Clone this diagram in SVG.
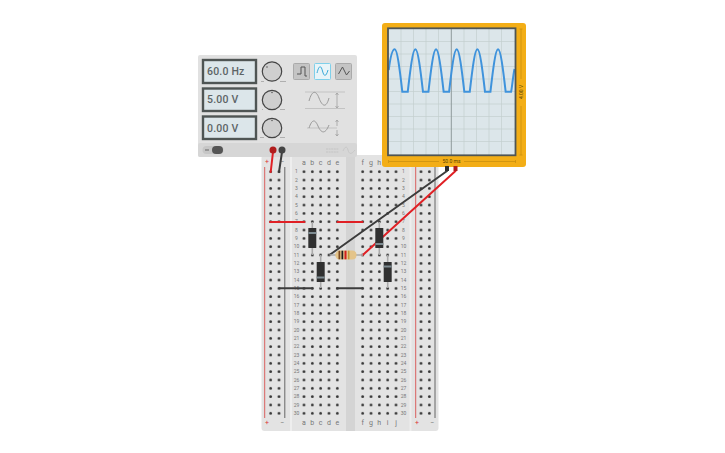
<svg xmlns="http://www.w3.org/2000/svg" width="725" height="453" viewBox="0 0 725 453">
<style>
text{font-family:"Roboto","Liberation Sans",sans-serif}
.disp{fill:#dce6ea;stroke:#4f5554;stroke-width:2.4}
.dt{font-size:10.5px;font-weight:500;fill:#5c6466;letter-spacing:.2px}
.knob{fill:#cfcfcf;stroke:#444;stroke-width:1.2}
.btn{fill:#c4c4c4;stroke:#aaa;stroke-width:1}
.ico{fill:none;stroke:#555;stroke-width:1}
.gico{fill:none;stroke:#999;stroke-width:1}
.gln{stroke:#bbb;stroke-width:.8;fill:none}
.tick{stroke:#999;stroke-width:.7;fill:none}
.n{font-size:5px;fill:#777;text-anchor:middle}
.l{font-size:7px;fill:#777;text-anchor:middle}
.grid{stroke:#c3cfcf;stroke-width:.7}
.wr{stroke:#e02025;stroke-width:2;fill:none;stroke-linecap:round}
.wk{stroke:#3c3c3c;stroke-width:2;fill:none;stroke-linecap:round}
.lead{stroke:#aaa;stroke-width:1.6}
.dbody{fill:#303030}
.dband{fill:#7e8c92}
.olab{font-size:5px;fill:#5a4300;text-anchor:middle}
.oln{stroke:#c98f10;stroke-width:.8;fill:none}
</style>
<defs>
<pattern id="ha" patternUnits="userSpaceOnUse" x="299.83" y="167.53" width="8.33" height="8.33"><circle cx="4.17" cy="4.17" r="1.4" fill="#333"/></pattern>
<pattern id="hb" patternUnits="userSpaceOnUse" x="358.53" y="167.53" width="8.33" height="8.33"><circle cx="4.17" cy="4.17" r="1.4" fill="#333"/></pattern>
</defs>

<g id="breadboard">
<rect x="261.5" y="155" width="177" height="276" rx="3" fill="#e3e3e3"/>
<rect x="290" y="155" width="2" height="276" fill="#eeeeee"/>
<rect x="346" y="155" width="9" height="276" fill="#d4d4d4"/>
<rect x="409.5" y="155" width="2" height="276" fill="#eeeeee"/>
<line x1="264.7" y1="167" x2="264.7" y2="418" stroke="#d9605f" stroke-width="1"/>
<line x1="284.8" y1="167" x2="284.8" y2="418" stroke="#666" stroke-width="1"/>
<line x1="415.7" y1="167" x2="415.7" y2="418" stroke="#d9605f" stroke-width="1"/>
<line x1="435" y1="167" x2="435" y2="418" stroke="#666" stroke-width="1"/>
<rect x="266.5" y="167.5" width="16.7" height="250" fill="url(#ha)"/>
<rect x="299.8" y="167.5" width="41.7" height="250" fill="url(#ha)"/>
<rect x="358.5" y="167.5" width="41.7" height="250" fill="url(#hb)"/>
<rect x="416.9" y="167.5" width="16.7" height="250" fill="url(#hb)"/>
<g class="labels">
<text class="l" x="267" y="164" style="fill:#d33">+</text><text class="l" x="282" y="164">−</text>
<text class="l" x="304" y="164.5">a</text><text class="l" x="312.3" y="164.5">b</text><text class="l" x="320.7" y="164.5">c</text><text class="l" x="329" y="164.5">d</text><text class="l" x="337.3" y="164.5">e</text>
<text class="l" x="362.7" y="164.5">f</text><text class="l" x="371" y="164.5">g</text><text class="l" x="379.3" y="164.5">h</text>
<text class="l" x="267" y="425" style="fill:#d33">+</text><text class="l" x="282" y="425">−</text>
<text class="l" x="304" y="424.5">a</text><text class="l" x="312.3" y="424.5">b</text><text class="l" x="320.7" y="424.5">c</text><text class="l" x="329" y="424.5">d</text><text class="l" x="337.3" y="424.5">e</text>
<text class="l" x="362.7" y="424.5">f</text><text class="l" x="371" y="424.5">g</text><text class="l" x="379.3" y="424.5">h</text><text class="l" x="387.7" y="424.5">i</text><text class="l" x="396" y="424.5">j</text>
<text class="l" x="417" y="425" style="fill:#d33">+</text><text class="l" x="432" y="425">−</text>
</g>
<g class="left-numbers">
<text class="n" x="296.5" y="173.4">1</text><text class="n" x="296.5" y="181.7">2</text><text class="n" x="296.5" y="190">3</text><text class="n" x="296.5" y="198.4">4</text><text class="n" x="296.5" y="206.7">5</text><text class="n" x="296.5" y="215">6</text><text class="n" x="296.5" y="223.4">7</text><text class="n" x="296.5" y="231.7">8</text><text class="n" x="296.5" y="240">9</text><text class="n" x="296.5" y="248.4">10</text><text class="n" x="296.5" y="256.7">11</text><text class="n" x="296.5" y="265">12</text><text class="n" x="296.5" y="273.4">13</text><text class="n" x="296.5" y="281.7">14</text><text class="n" x="296.5" y="290">15</text><text class="n" x="296.5" y="298.4">16</text><text class="n" x="296.5" y="306.7">17</text><text class="n" x="296.5" y="315">18</text><text class="n" x="296.5" y="323.4">19</text><text class="n" x="296.5" y="331.7">20</text><text class="n" x="296.5" y="340">21</text><text class="n" x="296.5" y="348.4">22</text><text class="n" x="296.5" y="356.7">23</text><text class="n" x="296.5" y="365">24</text><text class="n" x="296.5" y="373.4">25</text><text class="n" x="296.5" y="381.7">26</text><text class="n" x="296.5" y="390">27</text><text class="n" x="296.5" y="398.4">28</text><text class="n" x="296.5" y="406.7">29</text><text class="n" x="296.5" y="415">30</text>
</g>
<g class="right-numbers">
<text class="n" x="403.5" y="173.4">1</text><text class="n" x="403.5" y="181.7">2</text><text class="n" x="403.5" y="190">3</text><text class="n" x="403.5" y="198.4">4</text><text class="n" x="403.5" y="206.7">5</text><text class="n" x="403.5" y="215">6</text><text class="n" x="403.5" y="223.4">7</text><text class="n" x="403.5" y="231.7">8</text><text class="n" x="403.5" y="240">9</text><text class="n" x="403.5" y="248.4">10</text><text class="n" x="403.5" y="256.7">11</text><text class="n" x="403.5" y="265">12</text><text class="n" x="403.5" y="273.4">13</text><text class="n" x="403.5" y="281.7">14</text><text class="n" x="403.5" y="290">15</text><text class="n" x="403.5" y="298.4">16</text><text class="n" x="403.5" y="306.7">17</text><text class="n" x="403.5" y="315">18</text><text class="n" x="403.5" y="323.4">19</text><text class="n" x="403.5" y="331.7">20</text><text class="n" x="403.5" y="340">21</text><text class="n" x="403.5" y="348.4">22</text><text class="n" x="403.5" y="356.7">23</text><text class="n" x="403.5" y="365">24</text><text class="n" x="403.5" y="373.4">25</text><text class="n" x="403.5" y="381.7">26</text><text class="n" x="403.5" y="390">27</text><text class="n" x="403.5" y="398.4">28</text><text class="n" x="403.5" y="406.7">29</text><text class="n" x="403.5" y="415">30</text>
</g>
</g>

<g id="function-generator">
<rect x="198" y="55" width="159" height="102" rx="2" fill="#e1e1e1"/>
<rect x="198" y="143" width="159" height="14" rx="2" fill="#d6d6d6"/>
<rect class="disp" x="203" y="60" width="53" height="23"/>
<rect class="disp" x="203" y="88.5" width="53" height="22.5"/>
<rect class="disp" x="203" y="116.5" width="53" height="22.5"/>
<text class="dt" x="207" y="75.3">60.0 Hz</text>
<text class="dt" x="207" y="103.3">5.00 V</text>
<text class="dt" x="207" y="132">0.00 V</text>
<circle class="knob" cx="272" cy="71.5" r="9.7"/>
<circle class="knob" cx="272" cy="100" r="9.7"/>
<circle class="knob" cx="272" cy="128" r="9.7"/>
<circle cx="267" cy="67" r=".7" fill="#444"/><circle cx="272" cy="92.5" r=".7" fill="#444"/><circle cx="272" cy="120.5" r=".7" fill="#444"/>
<path class="tick" d="M261 81.5h3M280 81.5h6M262 109.5h1M280 109.5h5M260 137.5h4M280 137.5h5"/>
<rect class="btn" x="293.5" y="63.5" width="16" height="16" rx="1"/>
<rect x="314.5" y="63.5" width="16" height="16" rx="1" fill="#e8f4f8" stroke="#7fd0ea"/>
<rect class="btn" x="335.5" y="63.5" width="16" height="16" rx="1"/>
<path class="ico" d="M297 74h4v-7h4v9h2"/>
<path d="M317 73c2-8 4-8 5.5-2s3.500 6 5.500-1" fill="none" stroke="#39a9d8" stroke-width="1"/>
<path class="ico" d="M338.500 74l4-7 4 8 3-4"/>
<path class="gln" d="M305 92h40M305 108.500h40"/>
<path class="gico" d="M309 101c3-11 7-11 10-3s7 11 10 0"/>
<path class="tick" d="M337 93v15M335.500 95l1.500-2 1.500 2M335.500 106l1.500 2 1.500-2"/>
<path class="gln" d="M307 128h30"/>
<path class="gico" d="M309 128c3-9 6-9 9-2s7 9 11-1"/>
<path class="tick" d="M337 120v6M337 130v6M335.500 122l1.500-2 1.500 2M335.500 134l1.500 2 1.500-2"/>
<path d="M326 149h13M326 152h13" stroke="#c4c4c4" stroke-width="1" stroke-dasharray="2 .6" fill="none"/>
<path d="M343 151c2-5 4-5 5-1s3 5 7 0" fill="none" stroke="#c4c4c4" stroke-width=".8"/>
<rect x="202.500" y="146" width="21" height="8" rx="4" fill="#c6c6c6"/>
<rect x="212" y="146" width="11" height="8" rx="4" fill="#555"/>
<rect x="205" y="149.500" width="4" height="1" fill="#666"/>
</g>

<g id="oscilloscope">
<rect x="382" y="23" width="144" height="144" rx="3" fill="#f3ae17"/>
<rect x="388" y="28.3" width="127.5" height="127" fill="#dce6ea"/>
<path class="grid" d="M401 28v127M413.500 28v127M426 28v127M438.500 28v127M464 28v127M476.500 28v127M489 28v127M501.500 28v127M388 41.500h127M388 54h127M388 66.500h127M388 79h127M388 91.500h127M388 104h127M388 116.500h127M388 129h127M388 141.500h127"/>
<line x1="451.3" y1="28" x2="451.3" y2="155" stroke="#8f9a9c" stroke-width="1"/>
<path d="M388.700 70C390.500 56 392.500 49.300 394.700 49.300c2.530 0 5.070 20.200 7.600 42.400h5.470c2.530-22.200 5.070-42.400 7.600-42.400c2.530 0 5.070 20.200 7.600 42.400h5.470c2.530-22.200 5.070-42.400 7.600-42.400c2.530 0 5.070 20.200 7.600 42.400h5.470c2.530-22.200 5.070-42.400 7.600-42.400c2.530 0 5.070 20.200 7.600 42.400h5.470c2.530-22.200 5.070-42.400 7.600-42.400c2.530 0 5.070 20.200 7.600 42.400h5.470c2.530-22.200 5.070-42.400 7.600-42.400c2.530 0 5.070 20.200 7.600 42.400h5.470C512 88 513 76 514.500 69" fill="none" stroke="#3f93dc" stroke-width="2"/>
<rect x="388" y="28.3" width="127.5" height="127" fill="none" stroke="#4f5554" stroke-width="1.8"/>
<path class="oln" d="M389 161.500h50M464 161.500h52M388.500 160v3M515.500 160v3M521 29v50M521 106v49M519.500 29h3M519.500 155h3"/>
<text class="olab" x="451.500" y="163">50.0 ms</text>
<text class="olab" transform="translate(522.500 92) rotate(-90)">4.00 V</text>
</g>

<g id="connectors">
<path class="wr" d="M270 222H304.500M337.500 222H362.500"/>
<path class="wk" d="M279.500 288.300H312.500M337 288.300H362.500"/>
<path class="wr" d="M273 152L270.700 172"/>
<path class="wk" d="M282 152L279 172"/>
<path class="wk" d="M329.500 255L447 171"/>
<path class="wr" d="M362.800 255L455.500 171"/>
<circle cx="273" cy="150" r="3.500" fill="#b01c1c"/>
<circle cx="282" cy="150" r="3.500" fill="#444"/>
<rect x="445" y="166" width="4" height="5" fill="#2e2e2e"/>
<rect x="453.500" y="166" width="4" height="5" fill="#b01c1c"/>
</g>

<g id="diode-1">
<line class="lead" x1="312.3" y1="222" x2="312.3" y2="255"/>
<rect class="dbody" x="308.3" y="228" width="8" height="20" rx=".5"/><rect class="dband" x="308.3" y="232" width="8" height="2"/>
</g>
<g id="diode-2">
<line class="lead" x1="320.7" y1="255" x2="320.7" y2="288"/>
<rect class="dbody" x="316.7" y="262" width="8" height="20" rx=".5"/><rect class="dband" x="316.7" y="276.5" width="8" height="2"/>
</g>
<g id="diode-3">
<line class="lead" x1="379.3" y1="222" x2="379.3" y2="255"/>
<rect class="dbody" x="375.3" y="228" width="8" height="20" rx=".5"/><rect class="dband" x="375.3" y="243" width="8" height="2"/>
</g>
<g id="diode-4">
<line class="lead" x1="387.7" y1="255" x2="387.7" y2="288"/>
<rect class="dbody" x="383.7" y="262" width="8" height="20" rx=".5"/><rect class="dband" x="383.7" y="265.5" width="8" height="2"/>
</g>
<g id="resistor">
<line class="lead" x1="329.5" y1="255" x2="363" y2="255"/>
<path d="M335 255q1.500-4.500 4-4.500h13q4.500 0 4.500 4.500t-4.500 4.500h-13q-2.500 0-4-4.500z" fill="#e4c48a"/>
<rect x="338.5" y="250.7" width="1.7" height="8.600" fill="#7b4a21"/>
<rect x="341.5" y="250.7" width="1.7" height="8.600" fill="#1d1d1d"/>
<rect x="344.5" y="250.7" width="2" height="8.600" fill="#d21f1f"/>
<rect x="348" y="250.7" width="1.500" height="8.600" fill="#c39a3a"/>
</g>
</svg>
